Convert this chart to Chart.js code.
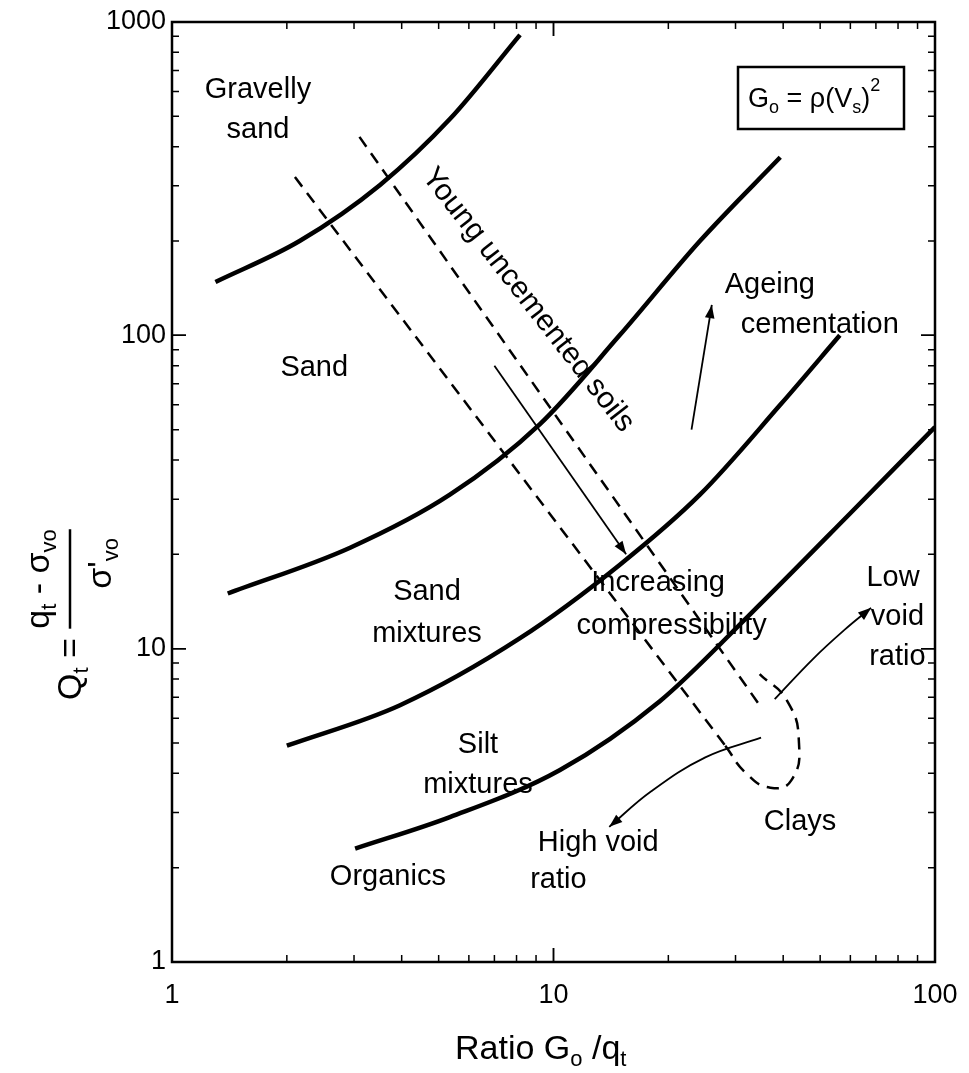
<!DOCTYPE html>
<html>
<head>
<meta charset="utf-8">
<script src="https://cdn.jsdelivr.net/npm/chart.js@4"></script>
<style>
  body { margin: 0; background: #fff; }
  #wrap { width: 969px; height: 1073px; }
</style>
</head>
<body>
<div id="wrap"><canvas id="myChart"></canvas></div>
<script>
// boundary curves (Go/qt, Qt)
const curveGravel = [[1.30, 148], [2.16, 200], [3.51, 302], [5.35, 490], [8.17, 910]];
const curveSand = [[1.40, 15], [2.93, 21], [5.35, 31], [9.2, 52], [14.9, 100], [24.2, 200], [39.3, 370]];
const curveSandMix = [[2.0, 4.9], [3.96, 6.6], [8.17, 10.8], [14.9, 18.5], [24.2, 31], [39.3, 60], [56.3, 100]];
const curveSiltMix = [[3.02, 2.3], [5.35, 2.9], [10.4, 4.1], [19.0, 6.8], [32.6, 12.8], [59.9, 27], [100, 51]];
// young uncemented soils, dashed
const dashLow = [[2.1, 320], [28.2, 4.9]];
const dashHigh = [[3.1, 430], [34.7, 6.6]];
const claysLoop = [[28.2, 4.9], [32, 4.0], [37, 3.6], [42, 3.8], [44, 5.0], [41, 6.8], [34.7, 8.3]];
// arrows
const arrowCompress = [[7.0, 80], [15.5, 20]];
const arrowAgeing = [[23, 50], [26, 125]];
const arrowLowVoid = [[38, 6.9], [48, 9.3], [58, 11.5], [68, 13.5]];
const arrowHighVoid = [[35, 5.2], [25, 4.5], [18, 3.5], [14, 2.7]];

const labels = [
  ['Gravelly', 1.68, 607], ['sand', 1.68, 453],
  ['Sand', 2.36, 78.7],
  ['Sand', 4.66, 15.2], ['mixtures', 4.66, 11.1],
  ['Silt', 6.34, 4.93], ['mixtures', 6.34, 3.67],
  ['Organics', 3.68, 1.87],
  ['High void', 13.1, 2.40], ['ratio', 10.3, 1.83],
  ['Clays', 44.3, 2.80],
  ['Increasing', 18.8, 16.2], ['compressibility', 20.4, 11.8],
  ['Ageing', 36.9, 145], ['cementation', 49.9, 108],
  ['Low', 77.6, 16.8], ['void', 79.7, 12.6], ['ratio', 79.7, 9.4]
];

const ds = (pts, opt) => Object.assign({
  data: pts.map(p => ({ x: p[0], y: p[1] })),
  showLine: true, pointRadius: 0, borderColor: '#000', borderWidth: 4.5,
  tension: 0.4, cubicInterpolationMode: 'monotone', fill: false
}, opt);

const FONT = 'Arial, "Liberation Sans", sans-serif';

const decor = {
  id: 'decor',
  afterDatasetsDraw(chart) {
    const c = chart.ctx, a = chart.chartArea;
    const X = v => chart.scales.x.getPixelForValue(v);
    const Y = v => chart.scales.y.getPixelForValue(v);
    c.save();
    // arrowheads
    chart.data.datasets.forEach((d, i) => {
      if (!d.arrow) return;
      const el = chart.getDatasetMeta(i).data;
      const p1 = el[el.length - 2], p2 = el[el.length - 1];
      const ang = Math.atan2(p2.y - p1.y, p2.x - p1.x);
      c.fillStyle = '#000';
      c.beginPath();
      c.moveTo(p2.x, p2.y);
      c.lineTo(p2.x - 14 * Math.cos(ang - 0.35), p2.y - 14 * Math.sin(ang - 0.35));
      c.lineTo(p2.x - 14 * Math.cos(ang + 0.35), p2.y - 14 * Math.sin(ang + 0.35));
      c.closePath(); c.fill();
    });
    // frame
    c.strokeStyle = '#000'; c.lineWidth = 2.5;
    c.strokeRect(a.left, a.top, a.right - a.left, a.bottom - a.top);
    // ticks
    c.lineWidth = 1.5;
    for (let e = 0; e < 3; e++) for (let k = 1; k <= 10; k++) {
      const v = k * Math.pow(10, e);
      if (v > 100) continue;
      const px = X(v), L = k === 1 || k === 10 ? 14 : 7;
      c.beginPath(); c.moveTo(px, a.bottom); c.lineTo(px, a.bottom - L);
      c.moveTo(px, a.top); c.lineTo(px, a.top + L); c.stroke();
    }
    for (let e = 0; e < 3; e++) for (let k = 1; k <= 10; k++) {
      const v = k * Math.pow(10, e), py = Y(v), L = k === 1 || k === 10 ? 14 : 7;
      c.beginPath(); c.moveTo(a.left, py); c.lineTo(a.left + L, py);
      c.moveTo(a.right, py); c.lineTo(a.right - L, py); c.stroke();
    }
    // tick labels
    c.fillStyle = '#000';
    c.font = '27px ' + FONT;
    c.textAlign = 'center'; c.textBaseline = 'top';
    [1, 10, 100].forEach(v => c.fillText(String(v), X(v), a.bottom + 20));
    c.textAlign = 'right'; c.textBaseline = 'middle';
    [1, 10, 100, 1000].forEach(v => c.fillText(String(v), a.left - 6, Y(v)));
    // region labels
    c.font = '29px ' + FONT;
    c.textAlign = 'center';
    labels.forEach(l => c.fillText(l[0], X(l[1]), Y(l[2])));
    // rotated label
    c.save();
    c.translate(528, 300);
    c.rotate(52 * Math.PI / 180);
    c.font = '30px ' + FONT;
    c.fillText('Young uncemented soils', 0, 0);
    c.restore();
    // formula box
    c.lineWidth = 2.5;
    c.strokeRect(738, 67, 166, 62);
    c.textAlign = 'left';
    let x = 748; const by = 100;
    const put = (t, dy, f) => { c.font = f; c.fillText(t, x, by + dy); x += c.measureText(t).width; };
    const F = '27px ' + FONT, S = '18px ' + FONT;
    put('G', 0, F); put('o', 8, S); put(' = ρ(V', 0, F); put('s', 8, S); put(')', 0, F); put('2', -14, S);
    // x title
    x = 455; const ty = 1050;
    const F2 = '34px ' + FONT, S2 = '22px ' + FONT;
    const put2 = (t, dy, f) => { c.font = f; c.fillText(t, x, ty + dy); x += c.measureText(t).width; };
    put2('Ratio G', 0, F2); put2('o', 10, S2); put2(' /q', 0, F2); put2('t', 10, S2);
    // y title (rotated fraction)
    c.save();
    c.translate(72, 490); c.rotate(-Math.PI / 2);
    c.textAlign = 'left';
    x = -210;
    const put3 = (t, y, f) => { c.font = f; c.fillText(t, x, y); x += c.measureText(t).width; };
    put3('Q', 0, F2); put3('t', 10, S2); put3(' = ', 0, F2);
    const fx = x;
    put3('q', -32, F2); put3('t', -22, S2); put3(' - σ', -32, F2); put3('vo', -22, S2);
    const fw = x - fx;
    c.lineWidth = 2.5; c.beginPath(); c.moveTo(fx, -2); c.lineTo(fx + fw, -2); c.stroke();
    x = fx + 40; put3('σ\'', 30, F2); put3('vo', 40, S2);
    c.restore();
    c.restore();
  }
};

new Chart(document.getElementById('myChart'), {
  type: 'scatter',
  data: {
    datasets: [
      ds(curveGravel), ds(curveSand), ds(curveSandMix), ds(curveSiltMix),
      ds(dashLow, { borderWidth: 2.5, borderDash: [12, 8], tension: 0 }),
      ds(dashHigh, { borderWidth: 2.5, borderDash: [12, 8], tension: 0 }),
      ds(claysLoop, { borderWidth: 2.5, borderDash: [12, 8], cubicInterpolationMode: 'default', tension: 0.5 }),
      ds(arrowCompress, { borderWidth: 1.8, tension: 0, arrow: true }),
      ds(arrowAgeing, { borderWidth: 1.8, tension: 0, arrow: true }),
      ds(arrowLowVoid, { borderWidth: 1.8, cubicInterpolationMode: 'default', tension: 0.4, arrow: true }),
      ds(arrowHighVoid, { borderWidth: 1.8, cubicInterpolationMode: 'default', tension: 0.4, arrow: true })
    ]
  },
  options: {
    responsive: true, maintainAspectRatio: false, animation: false,
    layout: { padding: { left: 172, right: 34, top: 22, bottom: 111 } },
    plugins: { legend: { display: false }, tooltip: { enabled: false } },
    scales: {
      x: { type: 'logarithmic', min: 1, max: 100, display: false },
      y: { type: 'logarithmic', min: 1, max: 1000, display: false }
    }
  },
  plugins: [decor]
});
</script>
</body>
</html>
